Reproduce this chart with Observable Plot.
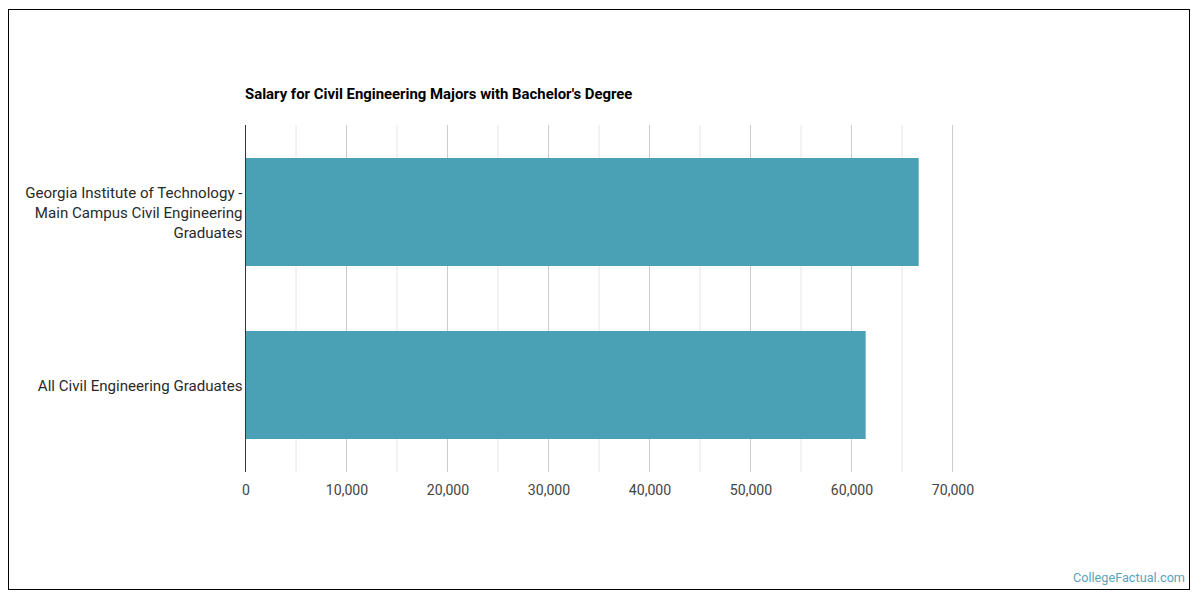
<!DOCTYPE html>
<html>
<head>
<meta charset="utf-8">
<script src="https://cdn.jsdelivr.net/npm/d3@7"></script>
<script src="https://cdn.jsdelivr.net/npm/@observablehq/plot@0.6"></script>
<style>
  html, body { margin: 0; padding: 0; background: #fff; }
  #wrap { position: relative; width: 1200px; height: 600px; font-family: Roboto, sans-serif; overflow: hidden; }
  #wrap svg { position: absolute; left: 0; top: 0; background: transparent; }
  #frame { position: absolute; left: 8px; top: 9px; width: 1180px; height: 579px; border: 1px solid #000; }
  #title { position: absolute; left: 245px; top: 85px; font: bold 14.9px Roboto, sans-serif; color: #000; white-space: nowrap; }
  #credit { position: absolute; right: 15px; top: 570px; font: 12.7px Roboto, sans-serif; color: #5ba4b8; white-space: nowrap; }
</style>
</head>
<body>
<div id="wrap">
  <div id="frame"></div>
  <div id="title">Salary for Civil Engineering Majors with Bachelor's Degree</div>
  <div id="credit">CollegeFactual.com</div>
</div>
<script>
const categories = [
  "Georgia Institute of Technology -\nMain Campus Civil Engineering\nGraduates",
  "All Civil Engineering Graduates"
];
const salaries = [66700, 61450];
const majorTicks = [0, 10000, 20000, 30000, 40000, 50000, 60000, 70000];
const minorTicks = [5000, 15000, 25000, 35000, 45000, 55000, 65000];

const rows = categories.map((c, i) => ({category: c, salary: salaries[i]}));

const chart = Plot.plot({
  width: 1200,
  height: 600,
  marginLeft: 245,
  marginRight: 248,
  marginTop: 125,
  marginBottom: 128,
  style: {background: "transparent", fontFamily: "Roboto, sans-serif"},
  x: {domain: [0, 70000], label: null},
  y: {domain: categories, paddingInner: 0.376, paddingOuter: 0.19, align: 0.5, label: null},
  marks: [
    Plot.ruleX(minorTicks, {stroke: "#e6e6e6", strokeWidth: 1}),
    Plot.ruleX(majorTicks.slice(1), {stroke: "#cccccc", strokeWidth: 1}),
    Plot.barX(rows, {x: "salary", y: "category", fill: "#4aa0b5"}),
    Plot.ruleX([0], {stroke: "#333333", strokeWidth: 1}),
    Plot.axisX({
      ticks: majorTicks,
      tickSize: 0,
      tickPadding: 12,
      dx: 0.5,
      tickFormat: d3.format(","),
      fontSize: 14.1,
      fill: "#444444",
      label: null
    }),
    Plot.axisY({
      tickSize: 0,
      tickPadding: 3,
      dy: -1,
      fontSize: 15.1,
      fill: "#2a2a2a",
      lineHeight: 1.325,
      textOverflow: null,
      lineWidth: Infinity,
      label: null
    })
  ]
});
document.getElementById("wrap").appendChild(chart);
</script>
</body>
</html>
